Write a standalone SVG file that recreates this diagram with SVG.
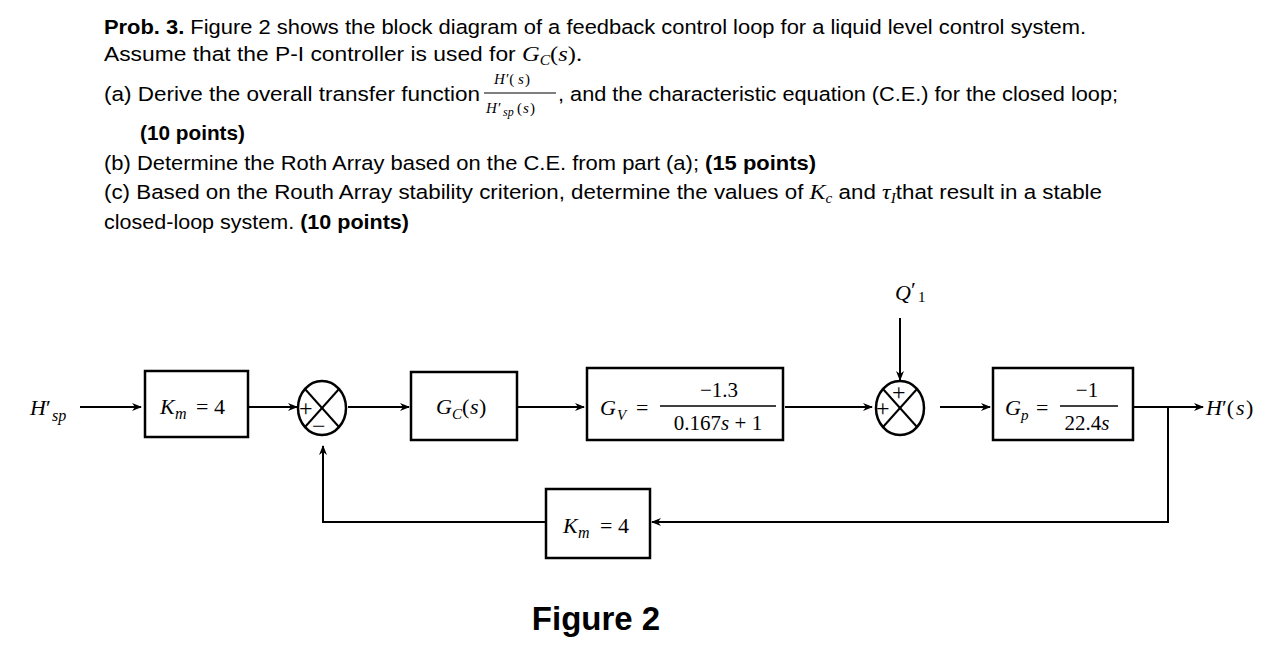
<svg xmlns="http://www.w3.org/2000/svg" width="1282" height="645" viewBox="0 0 1282 645">
<defs>
<marker id="ah" markerWidth="10" markerHeight="8" refX="9" refY="4" orient="auto" markerUnits="userSpaceOnUse"><path d="M0,0 L10,4 L0,8 L3,4 Z" fill="#000"/></marker>
<style>
.t{font-family:"Liberation Sans",Arial,sans-serif;font-size:20.5px;fill:#000}
.b{font-weight:bold}
.m{font-family:"Liberation Serif","Times New Roman",serif;font-style:italic;fill:#000}
.n{font-family:"Liberation Serif","Times New Roman",serif;fill:#000}
.box{fill:#fff;stroke:#000;stroke-width:2.5}
.ln{fill:none;stroke:#000;stroke-width:2}
</style>
</defs>
<rect width="1282" height="645" fill="#fff"/>
<g id="problem">
<text class="t" x="104" y="34" textLength="982" lengthAdjust="spacingAndGlyphs"><tspan class="b">Prob. 3.</tspan> Figure 2 shows the block diagram of a feedback control loop for a liquid level control system.</text>
<text class="t" x="104" y="61" textLength="478" lengthAdjust="spacingAndGlyphs">Assume that the P-I controller is used for <tspan class="m" font-size="22">G</tspan><tspan class="m" font-size="14" dy="4">C</tspan><tspan class="n" font-size="22" dy="-4">(</tspan><tspan class="m" font-size="22">s</tspan><tspan class="n" font-size="22">).</tspan></text>
<text class="t" x="104" y="101" textLength="376" lengthAdjust="spacingAndGlyphs">(a) Derive the overall transfer function</text>
<text class="m" x="494" y="84" font-size="15">H</text><text class="n" x="506" y="84" font-size="15">′(</text><text class="m" x="518" y="84" font-size="15">s</text><text class="n" x="525" y="84" font-size="15">)</text>
<line x1="484" y1="93" x2="556" y2="93" stroke="#000" stroke-width="1.2"/>
<text class="m" x="486" y="113" font-size="15">H</text><text class="n" x="498" y="113" font-size="15">′</text><text class="m" x="503" y="116" font-size="12">sp</text><text class="n" x="517" y="113" font-size="15">(</text><text class="m" x="523" y="113" font-size="15">s</text><text class="n" x="530" y="113" font-size="15">)</text>
<text class="t" x="558" y="101" textLength="560" lengthAdjust="spacingAndGlyphs">, and the characteristic equation (C.E.) for the closed loop;</text>
<text class="t b" x="140" y="140" textLength="105" lengthAdjust="spacingAndGlyphs">(10 points)</text>
<text class="t" x="104" y="170" textLength="712" lengthAdjust="spacingAndGlyphs">(b) Determine the Roth Array based on the C.E. from part (a); <tspan class="b">(15 points)</tspan></text>
<text class="t" x="104" y="199" textLength="998" lengthAdjust="spacingAndGlyphs">(c) Based on the Routh Array stability criterion, determine the values of <tspan class="m" font-size="22">K</tspan><tspan class="m" font-size="14" dy="4">c</tspan><tspan dy="-4"> and </tspan><tspan class="m" font-size="22">τ</tspan><tspan class="m" font-size="14" dy="4">I</tspan><tspan dy="-4">that result in a stable</tspan></text>
<text class="t" x="104" y="229" textLength="305" lengthAdjust="spacingAndGlyphs">closed-loop system. <tspan class="b">(10 points)</tspan></text>
</g>
<g id="connectors">
<line class="ln" x1="80" y1="407" x2="141" y2="407" marker-end="url(#ah)"/>
<line class="ln" x1="248" y1="407" x2="297" y2="407" marker-end="url(#ah)"/>
<line class="ln" x1="348" y1="407" x2="409" y2="407" marker-end="url(#ah)"/>
<line class="ln" x1="517" y1="407" x2="584" y2="407" marker-end="url(#ah)"/>
<line class="ln" x1="785" y1="407" x2="872" y2="407" marker-end="url(#ah)"/>
<line class="ln" x1="900" y1="318" x2="900" y2="380" marker-end="url(#ah)"/>
<line class="ln" x1="940" y1="407" x2="990" y2="407" marker-end="url(#ah)"/>
<line class="ln" x1="1133" y1="407" x2="1203" y2="407" marker-end="url(#ah)"/>
<polyline class="ln" points="1168,407 1168,522 652,522" marker-end="url(#ah)"/>
<polyline class="ln" points="546,522 323,522 323,446" marker-end="url(#ah)"/>
</g>
<g id="hsp"><text class="m" x="30" y="415" font-size="22">H</text><text class="n" x="46" y="415" font-size="22">′</text><text class="m" x="52" y="421" font-size="16">sp</text></g>
<g id="km1"><rect class="box" x="145" y="371" width="103" height="66"/><text class="m" x="160" y="414" font-size="22">K</text><text class="m" x="175" y="419" font-size="16">m</text><text class="n" x="196" y="414" font-size="22">= 4</text></g>
<g id="sum1"><ellipse class="box" cx="322" cy="408" rx="24" ry="27"/><line class="ln" x1="305" y1="389" x2="339" y2="427"/><line class="ln" x1="339" y1="389" x2="305" y2="427"/><text class="n" x="299" y="416" font-size="24">+</text><text class="n" x="312" y="434" font-size="24">−</text></g>
<g id="gc"><rect class="box" x="411" y="372" width="106" height="68"/><text class="m" x="436" y="414" font-size="22">G</text><text class="m" x="452" y="419" font-size="15">C</text><text class="n" x="462" y="414" font-size="22">(</text><text class="m" x="470" y="414" font-size="22">s</text><text class="n" x="479" y="414" font-size="22">)</text></g>
<g id="gv"><rect class="box" x="587" y="368" width="196" height="72"/><text class="m" x="600" y="415" font-size="22">G</text><text class="m" x="617" y="420" font-size="15">V</text><text class="n" x="636" y="415" font-size="22">=</text><text class="n" x="719" y="397" font-size="21" text-anchor="middle">−1.3</text><line x1="660" y1="406" x2="776" y2="406" stroke="#000" stroke-width="1.3"/><text class="n" x="718" y="430" font-size="21" text-anchor="middle">0.167<tspan class="m">s</tspan> + 1</text></g>
<g id="q1"><text class="m" x="895" y="300" font-size="22">Q</text><text class="n" x="911" y="297" font-size="22">′</text><text class="n" x="918" y="302" font-size="15">1</text></g>
<g id="sum2"><ellipse class="box" cx="900" cy="408" rx="24" ry="27"/><line class="ln" x1="883" y1="389" x2="917" y2="427"/><line class="ln" x1="917" y1="389" x2="883" y2="427"/><text class="n" x="892" y="400" font-size="24">+</text><text class="n" x="876" y="416" font-size="24">+</text></g>
<g id="gp"><rect class="box" x="993" y="368" width="140" height="72"/><text class="m" x="1005" y="415" font-size="22">G</text><text class="m" x="1021" y="420" font-size="15">p</text><text class="n" x="1036" y="415" font-size="22">=</text><text class="n" x="1087" y="397" font-size="21" text-anchor="middle">−1</text><line x1="1060" y1="406" x2="1118" y2="406" stroke="#000" stroke-width="1.3"/><text class="n" x="1087" y="430" font-size="21" text-anchor="middle">22.4<tspan class="m">s</tspan></text></g>
<g id="hs"><text class="m" x="1206" y="415" font-size="22">H</text><text class="n" x="1222" y="415" font-size="22">′(</text><text class="m" x="1236" y="415" font-size="22">s</text><text class="n" x="1246" y="415" font-size="22">)</text></g>
<g id="km2"><rect class="box" x="546" y="489" width="104" height="69"/><text class="m" x="563" y="533" font-size="22">K</text><text class="m" x="578" y="538" font-size="16">m</text><text class="n" x="600" y="533" font-size="22">= 4</text></g>
<text x="596" y="630" text-anchor="middle" font-family="Liberation Sans,Arial,sans-serif" font-weight="bold" font-size="33">Figure 2</text>
</svg>
